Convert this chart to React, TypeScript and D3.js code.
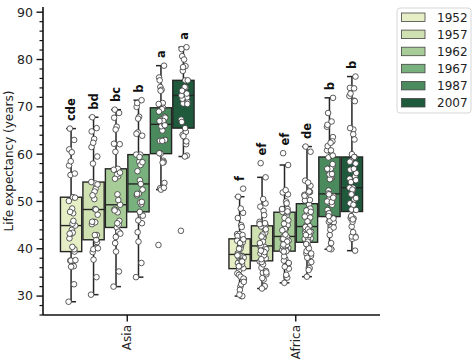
import React from "react";
import * as d3 from "d3";

const continents = ["Asia", "Africa"];
const years = ["1952", "1957", "1962", "1967", "1987", "2007"];
const boxColors = ["#e6eec6", "#cfe0b1", "#a7cc97", "#78b07e", "#4a8a5c", "#1f5a3c"];
const asiaLetters = ["cde", "bd", "bc", "b", "a", "a"];
const africaLetters = ["f", "ef", "ef", "de", "b", "b"];
const yTicks = [30, 40, 50, 60, 70, 80, 90];

// life expectancy per country, read from the points
const asia1952 = [28.8, 50.9, 37.5, 39.4, 44.0, 61.0, 37.4, 37.5, 44.9, 45.3, 65.4, 63.0, 43.2, 50.1, 47.5, 55.6, 55.9, 48.5, 42.2, 36.3, 36.2, 37.6, 43.4, 47.8, 39.9, 60.4, 57.6, 45.9, 58.5, 50.8, 40.4, 43.2, 32.5];
const asia1957 = [30.3, 53.8, 39.3, 41.4, 50.5, 64.8, 40.2, 39.9, 47.2, 48.4, 67.8, 65.5, 45.7, 54.1, 52.7, 58.0, 59.5, 52.1, 45.2, 41.9, 37.7, 40.1, 45.6, 51.3, 42.9, 63.2, 61.5, 48.3, 62.4, 53.6, 42.9, 45.7, 34.0];
const asia1962 = [32.0, 56.9, 41.2, 43.4, 44.5, 67.7, 43.6, 42.5, 49.3, 51.5, 69.4, 68.7, 48.1, 56.7, 55.3, 60.5, 62.1, 55.7, 48.3, 45.1, 39.4, 43.2, 47.7, 54.8, 45.9, 65.8, 62.2, 50.3, 65.2, 56.1, 45.4, 48.1, 35.2];
const asia1967 = [34.0, 59.9, 43.5, 45.4, 58.4, 70.0, 47.2, 46.0, 52.5, 54.5, 70.8, 71.4, 51.6, 59.9, 57.7, 64.6, 63.9, 59.4, 51.3, 49.4, 41.5, 47.0, 49.8, 56.4, 49.9, 67.9, 64.3, 53.7, 67.5, 58.3, 47.8, 51.6, 37.0];
const asia1987 = [40.8, 70.8, 52.8, 53.9, 67.3, 76.2, 58.6, 60.1, 63.0, 65.0, 75.6, 78.7, 65.9, 70.6, 69.8, 74.2, 67.9, 69.5, 60.2, 58.3, 52.5, 67.7, 58.2, 62.8, 66.3, 73.6, 69.0, 67.0, 73.4, 66.1, 62.8, 67.0, 52.9];
const asia2007 = [43.8, 75.6, 64.1, 59.7, 73.0, 82.2, 64.7, 70.7, 71.0, 59.5, 80.7, 82.6, 72.5, 67.3, 78.6, 77.6, 72.0, 74.2, 66.8, 62.1, 63.8, 75.6, 65.5, 71.7, 72.8, 80.0, 72.4, 74.1, 78.4, 70.6, 74.2, 73.4, 62.7];
const africa1952 = [43.1, 30.0, 38.2, 47.6, 32.0, 39.0, 38.5, 35.5, 38.1, 40.7, 39.1, 42.1, 40.5, 34.8, 41.9, 34.5, 35.9, 34.1, 37.0, 30.0, 43.1, 33.6, 32.5, 42.3, 42.1, 38.5, 42.7, 36.7, 36.3, 33.7, 40.5, 51.0, 42.9, 31.3, 41.7, 37.4, 36.3, 52.7, 40.0, 46.5, 37.3, 30.3, 33.0, 45.0, 38.6, 41.4, 41.2, 38.6, 44.6, 40.0, 42.0, 48.5];
const africa1957 = [45.7, 32.0, 40.4, 49.6, 34.9, 40.5, 40.4, 37.5, 39.9, 42.5, 40.7, 45.1, 42.5, 37.3, 44.4, 36.0, 38.0, 36.7, 39.0, 32.1, 44.8, 34.6, 33.5, 44.7, 45.0, 39.5, 45.3, 38.9, 37.2, 35.3, 42.3, 58.1, 45.4, 33.8, 45.2, 38.6, 37.8, 55.1, 41.5, 48.9, 39.3, 31.6, 35.0, 48.0, 39.6, 43.4, 43.0, 41.2, 47.1, 42.6, 44.1, 50.5];
const africa1962 = [48.3, 34.0, 42.6, 51.5, 37.8, 42.0, 42.6, 39.5, 41.7, 44.5, 42.1, 48.4, 44.9, 39.7, 47.0, 37.5, 40.2, 40.1, 40.5, 33.9, 46.5, 35.8, 34.5, 47.9, 47.7, 40.5, 47.8, 40.8, 38.4, 36.9, 44.2, 60.2, 47.9, 36.2, 48.4, 39.5, 39.4, 57.7, 43.0, 51.9, 41.5, 32.8, 37.0, 50.0, 40.9, 45.0, 44.2, 43.9, 49.6, 45.3, 46.0, 52.4];
const africa1967 = [51.4, 36.0, 44.9, 53.3, 40.7, 43.5, 44.8, 41.5, 43.6, 46.5, 44.1, 52.0, 47.4, 42.1, 49.3, 39.0, 42.2, 42.1, 44.6, 35.9, 48.1, 37.2, 35.5, 50.7, 48.5, 41.5, 50.2, 42.9, 39.5, 38.5, 45.9, 61.6, 50.3, 38.1, 51.2, 40.1, 41.0, 60.5, 44.1, 54.4, 43.6, 34.1, 39.0, 51.9, 42.9, 46.6, 45.8, 46.8, 52.1, 48.1, 47.8, 54.0];
const africa1987 = [65.8, 39.9, 52.3, 63.6, 49.6, 48.2, 55.0, 50.5, 51.1, 54.9, 47.4, 57.5, 54.7, 50.0, 59.8, 45.7, 46.5, 44.7, 56.7, 49.3, 55.7, 45.6, 41.2, 59.3, 59.7, 46.0, 66.2, 49.9, 47.5, 46.4, 56.9, 68.7, 62.7, 42.9, 60.8, 44.6, 46.9, 71.9, 44.0, 61.7, 55.8, 40.0, 44.5, 60.8, 51.7, 57.9, 51.5, 56.9, 66.9, 51.5, 50.8, 62.4];
const africa2007 = [72.3, 42.7, 56.7, 50.7, 52.3, 49.6, 50.4, 44.7, 50.7, 65.2, 46.5, 55.3, 48.3, 54.8, 71.3, 51.6, 58.0, 52.9, 56.7, 59.4, 60.0, 56.0, 46.4, 54.1, 42.6, 45.7, 74.0, 59.4, 48.3, 54.5, 64.2, 72.8, 71.2, 42.1, 52.9, 56.9, 46.9, 76.4, 46.2, 65.5, 63.1, 42.6, 48.2, 49.3, 58.6, 39.6, 52.5, 58.4, 73.9, 51.5, 42.4, 43.5];

const lifeExp: Record<string, number[][]> = {
  Asia: [asia1952, asia1957, asia1962, asia1967, asia1987, asia2007],
  Africa: [africa1952, africa1957, africa1962, africa1967, africa1987, africa2007],
};
const letters: Record<string, string[]> = { Asia: asiaLetters, Africa: africaLetters };

const W = 474;
const H = 364;
const FONT = "DejaVu Sans, sans-serif";
const EDGE = "#252525";

function boxStats(values: number[]) {
  const s = values.slice().sort(d3.ascending);
  const q1 = d3.quantile(s, 0.25)!;
  const med = d3.quantile(s, 0.5)!;
  const q3 = d3.quantile(s, 0.75)!;
  const iqr = q3 - q1;
  const lo = d3.min(s.filter((v) => v >= q1 - 1.5 * iqr))!;
  const hi = d3.max(s.filter((v) => v <= q3 + 1.5 * iqr))!;
  return { q1, med, q3, lo, hi, max: s[s.length - 1] };
}

export default function App() {
  const ref = React.useRef<SVGSVGElement>(null);

  React.useEffect(() => {
    const svg = d3.select(ref.current);
    svg.selectAll("*").remove();

    const x = d3.scalePoint().domain(continents).range([43, 380]).padding(0.5);
    const y = d3.scaleLinear().domain([26, 91.1]).range([315, 7]);
    const groupW = x.step() * 0.8;
    const hue = d3.scaleBand().domain(years).range([-groupW / 2, groupW / 2]);
    const bw = hue.bandwidth();

    // y axis
    const ya = svg.append("g").attr("transform", "translate(43,0)");
    ya.append("line").attr("y1", 7).attr("y2", 315).attr("stroke", "#111").attr("stroke-width", 1.6);
    const minor = d3.range(26, 91, 2).filter((v) => v % 10 !== 0);
    ya.selectAll("line.minor").data(minor).join("line")
      .attr("class", "minor")
      .attr("x1", -3.5).attr("x2", 0)
      .attr("y1", (d) => y(d)).attr("y2", (d) => y(d))
      .attr("stroke", "#111").attr("stroke-width", 1.2);
    ya.selectAll("line.major").data(yTicks).join("line")
      .attr("class", "major")
      .attr("x1", -6.5).attr("x2", 0)
      .attr("y1", (d) => y(d)).attr("y2", (d) => y(d))
      .attr("stroke", "#111").attr("stroke-width", 1.4);
    ya.selectAll("text").data(yTicks).join("text")
      .attr("x", -10).attr("y", (d) => y(d))
      .attr("dy", "0.35em")
      .attr("text-anchor", "end")
      .attr("font-family", FONT).attr("font-size", 12.5).attr("fill", "#222")
      .text((d) => d);
    svg.append("text")
      .attr("transform", `translate(12.5,${(7 + 315) / 2}) rotate(-90)`)
      .attr("text-anchor", "middle")
      .attr("font-family", FONT).attr("font-size", 12).attr("fill", "#222")
      .text("Life expectancy (years)");

    // x axis
    const xa = svg.append("g").attr("transform", "translate(0,315)");
    xa.append("line").attr("x1", 43).attr("x2", 380).attr("stroke", "#111").attr("stroke-width", 1.6);
    xa.selectAll("line.tick").data(continents).join("line")
      .attr("class", "tick")
      .attr("x1", (d) => x(d)!).attr("x2", (d) => x(d)!)
      .attr("y1", 0).attr("y2", 6.5)
      .attr("stroke", "#111").attr("stroke-width", 1.4);
    xa.selectAll("text").data(continents).join("text")
      .attr("transform", (d) => `translate(${x(d)},10) rotate(-90)`)
      .attr("dy", "0.35em")
      .attr("text-anchor", "end")
      .attr("font-family", FONT).attr("font-size", 12).attr("fill", "#222")
      .text((d) => d);

    // boxes
    const plot = svg.append("g");
    continents.forEach((c) => {
      years.forEach((yr, i) => {
        const vals = lifeExp[c][i];
        const st = boxStats(vals);
        const cx = x(c)! + hue(yr)! + bw / 2;
        const g = plot.append("g");
        g.append("line")
          .attr("x1", cx).attr("x2", cx).attr("y1", y(st.q3)).attr("y2", y(st.hi))
          .attr("stroke", EDGE).attr("stroke-width", 1.5);
        g.append("line")
          .attr("x1", cx).attr("x2", cx).attr("y1", y(st.q1)).attr("y2", y(st.lo))
          .attr("stroke", EDGE).attr("stroke-width", 1.5);
        [st.lo, st.hi].forEach((v) => {
          g.append("line")
            .attr("x1", cx - bw * 0.22).attr("x2", cx + bw * 0.22)
            .attr("y1", y(v)).attr("y2", y(v))
            .attr("stroke", EDGE).attr("stroke-width", 1.5);
        });
        g.append("rect")
          .attr("x", cx - bw / 2 + 0.6).attr("width", bw - 1.2)
          .attr("y", y(st.q3)).attr("height", y(st.q1) - y(st.q3))
          .attr("fill", boxColors[i]).attr("stroke", EDGE).attr("stroke-width", 1.4);
        g.append("line")
          .attr("x1", cx - bw / 2 + 0.6).attr("x2", cx + bw / 2 - 0.6)
          .attr("y1", y(st.med)).attr("y2", y(st.med))
          .attr("stroke", EDGE).attr("stroke-width", 1.4);
        // strip points, spread with a fixed golden-ratio sequence
        g.selectAll("circle.pt").data(vals).join("circle")
          .attr("class", "pt")
          .attr("cx", (_, k) => cx + 1 + (((k * 0.618034) % 1) - 0.5) * 7)
          .attr("cy", (d) => y(d)).attr("r", 2.8)
          .attr("fill", "white").attr("stroke", "#333").attr("stroke-width", 0.8);
        g.append("text")
          .attr("transform", `translate(${cx},${y(st.max + 1.6)}) rotate(-90)`)
          .attr("dy", "0.36em")
          .attr("font-family", FONT).attr("font-size", 11.5).attr("font-weight", "bold")
          .attr("fill", "#111")
          .text(letters[c][i]);
      });
    });

    // legend
    const lg = svg.append("g");
    lg.append("rect")
      .attr("x", 397).attr("y", 8).attr("width", 74).attr("height", 105).attr("rx", 3)
      .attr("fill", "white").attr("stroke", "#d6d6d6").attr("stroke-width", 1);
    years.forEach((yr, i) => {
      lg.append("rect")
        .attr("x", 401.5).attr("y", 13 + i * 17.1).attr("width", 23.5).attr("height", 8.5)
        .attr("fill", boxColors[i]).attr("stroke", "#444").attr("stroke-width", 0.8);
      lg.append("text")
        .attr("x", 437).attr("y", 17.3 + i * 17.1).attr("dy", "0.35em")
        .attr("font-family", FONT).attr("font-size", 12).attr("fill", "#222")
        .text(yr);
    });
  }, []);

  return (
    <svg
      ref={ref}
      width={W}
      height={H}
      style={{ position: "absolute", left: 0, top: 0, background: "white" }}
    />
  );
}
